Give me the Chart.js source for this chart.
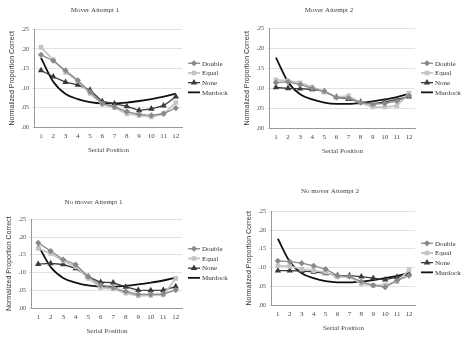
<!DOCTYPE html>
<html><head><meta charset="utf-8">
<script src="https://cdn.jsdelivr.net/npm/chart.js@4.4.1/dist/chart.umd.min.js"></script>
<style>
html,body{margin:0;padding:0;background:#fff;}
#wrap{position:relative;width:474px;height:340px;overflow:hidden;}
.p{position:absolute;}
</style></head><body>
<div id="wrap">
<div class="p" style="left:0;top:0;width:237px;height:154px"><canvas id="c1"></canvas></div>
<div class="p" style="left:237px;top:0;width:237px;height:155px"><canvas id="c2"></canvas></div>
<div class="p" style="left:0;top:192px;width:237px;height:143px"><canvas id="c3"></canvas></div>
<div class="p" style="left:237px;top:181px;width:237px;height:151px"><canvas id="c4"></canvas></div>
</div>
<script>
const positions = ['1','2','3','4','5','6','7','8','9','10','11','12'];
const seriesNames = ['Double','Equal','None','Murdock'];
const titles = ['Mover Attempt 1','Mover Attempt 2','No mover Attempt 1','No mover Attempt 2'];
const yTicks = [0, 0.05, 0.10, 0.15, 0.20, 0.25];

const murdock = [0.177,0.116,0.085,0.072,0.064,0.061,0.061,0.063,0.067,0.072,0.078,0.086];

const mover1Double = [0.185,0.170,0.145,0.120,0.090,0.060,0.052,0.040,0.033,0.030,0.035,0.049];
const mover1Equal  = [0.204,0.172,0.140,0.118,0.086,0.059,0.050,0.034,0.030,0.026,0.034,0.063];
const mover1None   = [0.145,0.129,0.115,0.108,0.095,0.066,0.060,0.053,0.043,0.047,0.055,0.078];

const mover2Double = [0.114,0.116,0.109,0.100,0.093,0.077,0.075,0.064,0.060,0.062,0.068,0.081];
const mover2Equal  = [0.121,0.119,0.114,0.103,0.090,0.078,0.081,0.064,0.053,0.053,0.056,0.088];
const mover2None   = [0.102,0.100,0.099,0.097,0.092,0.078,0.073,0.066,0.061,0.066,0.072,0.079];

const nomover1Double = [0.184,0.161,0.137,0.123,0.089,0.065,0.058,0.047,0.039,0.039,0.040,0.051];
const nomover1Equal  = [0.168,0.154,0.133,0.117,0.084,0.058,0.054,0.042,0.035,0.036,0.037,0.084];
const nomover1None   = [0.124,0.126,0.123,0.112,0.089,0.073,0.072,0.060,0.051,0.050,0.051,0.061];

const nomover2Double = [0.118,0.116,0.112,0.105,0.096,0.079,0.077,0.063,0.053,0.048,0.066,0.079];
const nomover2Equal  = [0.105,0.104,0.096,0.092,0.088,0.075,0.076,0.057,0.053,0.054,0.063,0.094];
const nomover2None   = [0.092,0.092,0.091,0.089,0.085,0.079,0.079,0.076,0.072,0.068,0.075,0.083];

const panelData = [
  [mover1Double, mover1Equal, mover1None],
  [mover2Double, mover2Equal, mover2None],
  [nomover1Double, nomover1Equal, nomover1None],
  [nomover2Double, nomover2Equal, nomover2None]
];

const styles = [
  {color:'#8a8a8a', point:'rectRot', width:1.3, radius:2.2},
  {color:'#c4c4c4', point:'rect', width:1.8, radius:2},
  {color:'#3a3a3a', point:'triangle', width:1.3, radius:2.4},
  {color:'#111111', point:false, width:1.8, radius:0}
];

const layouts = [
  {left:8, right:55, titlePad:15},
  {left:6, right:59, titlePad:14},
  {left:5, right:55, titlePad:13},
  {left:8, right:59, titlePad:16}
];

const serif = "'Liberation Serif','DejaVu Serif',serif";
const sans = "'Liberation Sans',Arial,sans-serif";

const legendPlugin = {
  id:'sideLegend',
  afterDraw(chart){
    const ctx = chart.ctx, ca = chart.chartArea;
    const n = chart.data.datasets.length, gap = 9.7;
    const y0 = (ca.top+ca.bottom)/2 - gap*(n-1)/2 - 0.5;
    const x0 = ca.right + 6;
    ctx.save();
    chart.data.datasets.forEach((ds,i)=>{
      const y = y0 + i*gap;
      ctx.strokeStyle = ds.borderColor; ctx.lineWidth = ds.borderWidth;
      ctx.beginPath(); ctx.moveTo(x0,y); ctx.lineTo(x0+12,y); ctx.stroke();
      if (ds.pointStyle) {
        ctx.fillStyle = ds.borderColor;
        Chart.helpers.drawPoint(ctx,{pointStyle:ds.pointStyle,radius:ds.pointRadius,rotation:0,borderWidth:1},x0+6,y);
      }
      ctx.fillStyle = '#333'; ctx.font = "7px "+serif; ctx.textBaseline='middle';
      ctx.fillText(ds.label, x0+14, y+0.5);
    });
    ctx.restore();
  }
};

function makeChart(id, idx){
  const L = layouts[idx];
  const datasets = seriesNames.map((name,i)=>{
    const st = styles[i];
    const data = i===3 ? murdock : panelData[idx][i];
    return {
      label:name, data,
      borderColor:st.color, backgroundColor:st.color,
      pointBackgroundColor:st.color, pointBorderColor:st.color,
      borderWidth:st.width,
      pointStyle: st.point || false,
      pointRadius: st.radius,
      tension: i===3 ? 0.4 : 0,
      cubicInterpolationMode: i===3 ? 'monotone' : 'default'
    };
  });
  return new Chart(document.getElementById(id), {
    type:'line',
    data:{labels:positions, datasets},
    options:{
      responsive:true, maintainAspectRatio:false, animation:false,
      layout:{padding:{left:L.left,right:L.right,top:0,bottom:0}},
      plugins:{
        legend:{display:false},
        tooltip:{enabled:false},
        title:{display:true,text:titles[idx],color:'#444',font:{family:serif,size:7,weight:'normal'},padding:{top:6,bottom:L.titlePad}}
      },
      scales:{
        x:{
          offset:true,
          grid:{display:false, drawTicks:true, tickLength:3},
          border:{color:'#999'},
          ticks:{color:'#444',font:{family:serif,size:7},padding:2,maxRotation:0,autoSkip:false},
          title:{display:true,text:'Serial Position',color:'#444',font:{family:serif,size:7},padding:{top:3,bottom:0}}
        },
        y:{
          min:0,max:0.25,
          afterBuildTicks(axis){ axis.ticks = yTicks.map(v=>({value:v})); },
          grid:{color:'#e2e2e2',lineWidth:1,drawTicks:true,tickLength:3},
          border:{color:'#999'},
          ticks:{color:'#444',font:{family:serif,size:6},padding:3,
            callback:(v)=>'.'+String(Math.round(v*100)).padStart(2,'0')},
          title:{display:true,text:'Normalized Proportion Correct',color:'#333',font:{family:sans,size:7},padding:{top:0,bottom:2}}
        }
      }
    },
    plugins:[legendPlugin]
  });
}
makeChart('c1',0);
makeChart('c2',1);
makeChart('c3',2);
makeChart('c4',3);
</script>
</body></html>
